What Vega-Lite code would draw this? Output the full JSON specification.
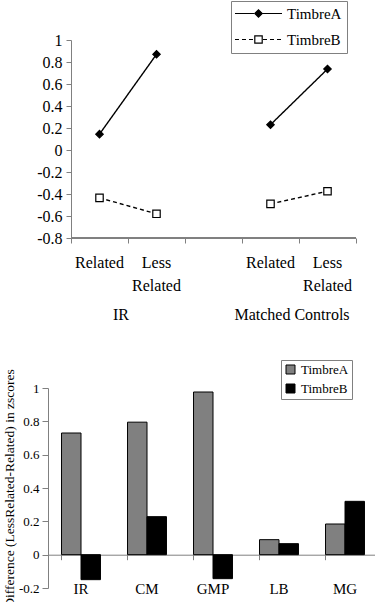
{
  "$schema": "https://vega.github.io/schema/vega-lite/v6.json",
  "padding": {"left": 2, "top": 0, "right": 0, "bottom": 0},
  "autosize": {"type": "pad"},
  "spacing": 37,
  "resolve": {"scale": {"color": "independent", "shape": "independent", "fill": "independent", "strokeDash": "independent"}, "legend": {"color": "independent", "shape": "independent", "fill": "independent", "strokeDash": "independent"}},
  "config": {
    "font": "Liberation Serif, Times New Roman, serif",
    "view": {"stroke": null},
    "axis": {"labelFont": "Liberation Serif, Times New Roman, serif", "titleFont": "Liberation Serif, Times New Roman, serif", "labelColor": "black", "titleColor": "black", "domainColor": "#808080", "tickColor": "#808080", "grid": false, "labelOverlap": false},
    "legend": {"labelFont": "Liberation Serif, Times New Roman, serif", "labelColor": "black"}
  },
  "datasets": {
    "means": [
      {"group": "IR", "cat": "IR Related", "series": "TimbreA", "z": 0.144},
      {"group": "IR", "cat": "IR Less Related", "series": "TimbreA", "z": 0.87},
      {"group": "Matched Controls", "cat": "MC Related", "series": "TimbreA", "z": 0.23},
      {"group": "Matched Controls", "cat": "MC Less Related", "series": "TimbreA", "z": 0.736},
      {"group": "IR", "cat": "IR Related", "series": "TimbreB", "z": -0.435},
      {"group": "IR", "cat": "IR Less Related", "series": "TimbreB", "z": -0.58},
      {"group": "Matched Controls", "cat": "MC Related", "series": "TimbreB", "z": -0.49},
      {"group": "Matched Controls", "cat": "MC Less Related", "series": "TimbreB", "z": -0.375}
    ],
    "diffs": [
      {"group": "IR", "series": "TimbreA", "d": 0.73},
      {"group": "CM", "series": "TimbreA", "d": 0.795},
      {"group": "GMP", "series": "TimbreA", "d": 0.976},
      {"group": "LB", "series": "TimbreA", "d": 0.09},
      {"group": "MG", "series": "TimbreA", "d": 0.184},
      {"group": "IR", "series": "TimbreB", "d": -0.15},
      {"group": "CM", "series": "TimbreB", "d": 0.228},
      {"group": "GMP", "series": "TimbreB", "d": -0.144},
      {"group": "LB", "series": "TimbreB", "d": 0.066},
      {"group": "MG", "series": "TimbreB", "d": 0.32}
    ]
  },
  "vconcat": [
    {
      "width": 308,
      "height": 198,
      "data": {"name": "means"},
      "layer": [
        {
          "mark": {"type": "line", "color": "black", "strokeWidth": 1.4},
          "encoding": {
            "x": {
              "field": "cat", "type": "nominal",
              "scale": {"domain": ["IR Related", "IR Less Related", "gap", "MC Related", "MC Less Related"], "paddingInner": 0, "paddingOuter": 0.2018, "align": 1},
              "axis": {"orient": "bottom", "title": null, "domain": false, "bandPosition": 0, "labelOffset": 0, "tickSize": 5, "labelPadding": 11, "labelFontSize": 16, "labelLineHeight": 23, "labelBaseline": "top", "labelAngle": 0, "labelOverlap": false,
                "labelExpr": "indexof(datum.value, 'Less') >= 0 ? ['Less', 'Related'] : (datum.value == 'gap' ? '' : 'Related')"}
            },
            "y": {
              "field": "z", "type": "quantitative",
              "scale": {"domain": [-0.8, 1], "nice": false, "zero": false},
              "axis": {"title": null, "offset": -23, "values": [-0.8, -0.6, -0.4, -0.2, 0, 0.2, 0.4, 0.6, 0.8, 1], "tickCount": 30, "labelFontSize": 16, "tickSize": 5, "labelPadding": 4, "labelOverlap": false,
                "labelExpr": "datum.value == 0 ? '0' : (datum.value < 0 ? '-' : '') + format(abs(datum.value), '')"}
            },
            "detail": {"field": "group"},
            "strokeDash": {
              "field": "series", "type": "nominal",
              "scale": {"domain": ["TimbreA", "TimbreB"], "range": [[1, 0], [4, 3]]},
              "legend": {"orient": "none", "legendX": 183, "legendY": -39, "title": null, "padding": 5,
                "strokeColor": "#808080", "labelFontSize": 15, "symbolType": "M-6.34,0H6.34", "symbolSize": 55,
                "symbolStrokeColor": "black", "symbolStrokeWidth": 1.2, "rowPadding": 10, "symbolOffset": 15, "labelOffset": 21}
            }
          }
        },
        {
          "mark": {"type": "point", "filled": true, "stroke": "black", "strokeWidth": 1.2, "size": 55, "opacity": 1},
          "encoding": {
            "x": {"field": "cat", "type": "nominal",
              "axis": {"orient": "bottom", "title": null, "values": ["IR Less Related", "MC Less Related"], "labelOffset": -35.5, "ticks": false, "tickSize": 0, "domain": false, "labelPadding": 68, "labelFontSize": 16, "labelBaseline": "top", "labelAngle": 0,
                "labelExpr": "datum.value == 'IR Less Related' ? 'IR' : 'Matched Controls'"}},
            "y": {"field": "z", "type": "quantitative"},
            "shape": {"field": "series", "type": "nominal",
              "scale": {"range": ["diamond", "square"]},
              "legend": {"orient": "none", "legendX": 183, "legendY": -39, "title": null, "padding": 5,
                "labelFontSize": 15, "labelOpacity": 0, "symbolSize": 55, "symbolOffset": 15,
                "symbolStrokeWidth": 1.2, "rowPadding": 10, "labelOffset": 21}},
            "fill": {"field": "series", "type": "nominal",
              "scale": {"range": ["black", "white"]},
              "legend": {"orient": "none", "legendX": 183, "legendY": -39, "title": null, "padding": 5,
                "labelFontSize": 15, "labelOpacity": 0, "symbolSize": 55, "symbolOffset": 15,
                "symbolStrokeWidth": 1.2, "rowPadding": 10, "labelOffset": 21}}
          }
        },
        {
          "mark": {"type": "rule", "color": "#808080", "strokeWidth": 1},
          "encoding": {
            "x": {"datum": "IR Related", "type": "nominal", "bandPosition": 0,
              "axis": {"orient": "bottom", "title": null, "values": ["MC Less Related"], "bandPosition": 1, "labels": false, "domain": false, "tickSize": 5}},
            "x2": {"datum": "MC Less Related", "bandPosition": 1},
            "y": {"datum": -0.8, "type": "quantitative"}
          }
        }
      ],
      "resolve": {"axis": {"x": "independent"}}
    },
    {
      "width": 330,
      "height": 200,
      "data": {"name": "diffs"},
      "layer": [
        {
          "transform": [{"filter": "datum.series === 'TimbreA'"}],
          "mark": {"type": "bar", "stroke": "black", "strokeWidth": 1},
          "encoding": {
            "x": {"field": "group", "type": "nominal", "sort": ["IR", "CM", "GMP", "LB", "MG"],
              "scale": {"paddingInner": 0.41, "paddingOuter": 0.205},
              "axis": {"orient": "bottom", "title": null, "ticks": false, "tickSize": 0, "domain": false, "labelPadding": 0, "labelBaseline": "middle", "labelFontSize": 15, "labelAngle": 0}},
            "xOffset": {"field": "series", "type": "nominal", "scale": {"domain": ["TimbreA", "TimbreB"]}},
            "y": {"field": "d", "type": "quantitative",
              "scale": {"domain": [-0.2, 1], "nice": false, "zero": false},
              "axis": {"title": "Difference (LessRelated-Related) in zscores", "titleFontSize": 13.5, "titleFontWeight": "normal", "titlePadding": 2,
                "values": [-0.2, 0, 0.2, 0.4, 0.6, 0.8, 1], "tickCount": 30, "labelFontSize": 13, "tickSize": 6, "labelPadding": 3, "minExtent": 28, "labelOverlap": false,
                "labelExpr": "datum.value == 0 ? '0' : (datum.value < 0 ? '-' : '') + format(abs(datum.value), '')"}},
            "color": {"field": "series", "type": "nominal",
              "scale": {"domain": ["TimbreA", "TimbreB"], "range": ["#808080", "#000000"]},
              "legend": {"orient": "none", "legendX": 233, "legendY": -28, "title": null, "padding": 3,
                "strokeColor": "#808080", "fillColor": "white", "labelFontSize": 13, "symbolType": "square", "symbolSize": 81,
                "symbolStrokeColor": "black", "symbolStrokeWidth": 1, "rowPadding": 5, "labelOffset": 4}}
          }
        },
        {
          "transform": [{"filter": "datum.series === 'TimbreB'"}],
          "mark": {"type": "bar", "stroke": "black", "strokeWidth": 1},
          "encoding": {
            "x": {"field": "group", "type": "nominal", "sort": ["IR", "CM", "GMP", "LB", "MG"],
              "axis": {"orient": "bottom", "title": null, "labels": false, "bandPosition": 0, "tickSize": 5, "offset": -33.3}},
            "xOffset": {"field": "series", "type": "nominal"},
            "y": {"field": "d", "type": "quantitative"},
            "color": {"field": "series", "type": "nominal"}
          }
        }
      ],
      "resolve": {"axis": {"x": "independent"}}
    }
  ]
}
